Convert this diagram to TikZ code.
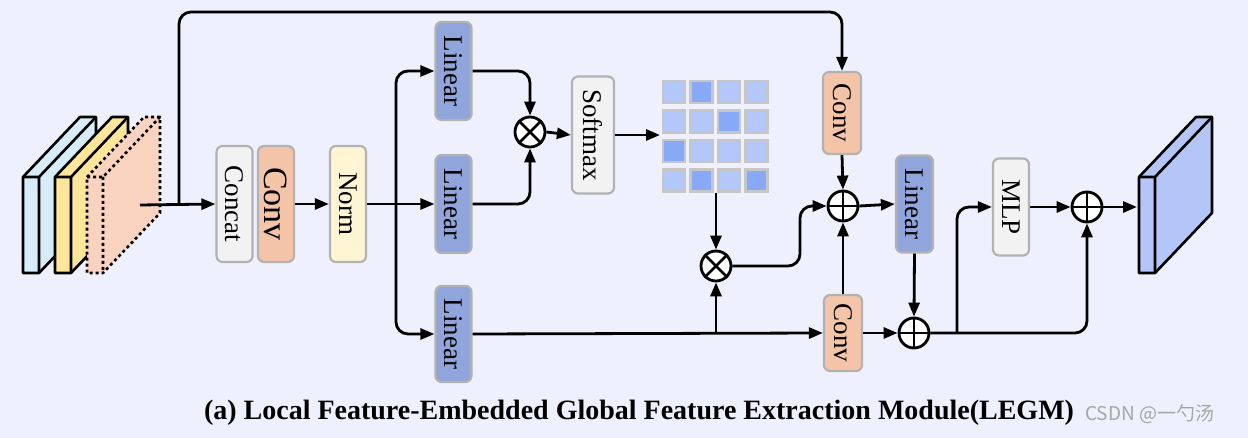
\documentclass[tikz,border=0pt]{standalone}
\usepackage{fontspec}
\setmainfont{Liberation Serif}
\newfontfamily\cjkf{Noto Sans CJK SC}
\usetikzlibrary{arrows.meta}
\definecolor{bg}{HTML}{EEF0FD}
\definecolor{linc}{HTML}{8FA5DC}
\definecolor{convc}{HTML}{F4C4A8}
\definecolor{grayc}{HTML}{F2F2F2}
\definecolor{normc}{HTML}{FFF5D4}
\definecolor{sblue}{HTML}{D6ECF8}
\definecolor{syel}{HTML}{FDE59A}
\definecolor{speach}{HTML}{F9D3BF}
\definecolor{outc}{HTML}{B3C6F7}
\definecolor{cl}{HTML}{B3C7FA}
\definecolor{cd}{HTML}{88A8F8}
\begin{document}
\begin{tikzpicture}[x=1pt,y=-1pt,
  blk/.style={draw=gray!60,line width=2.2pt,rounded corners=6pt,minimum width=36pt,inner sep=0pt,font=\fontsize{27}{27}\selectfont},
  arr/.style={-{Triangle[length=14pt,width=11pt]},line width=2.8pt,rounded corners=12pt},
  ln/.style={line width=2.8pt,rounded corners=12pt},
  op/.style={circle,draw,line width=2.8pt,fill=white,minimum size=30pt,inner sep=0pt},
  slab/.style={draw,line width=2.6pt,line join=round,dash pattern=on 9pt off 6pt}]
\fill[bg] (0,0) rectangle (1248,438);
\useasboundingbox (0,0) rectangle (1248,438);
% input slabs
\foreach \x/\c/\d in {23/sblue/solid,55/syel/solid,87/speach/dashed}{
  \draw[slab,fill=\c,\d] (\x,177)--(\x+57,117)--(\x+73,117)--(\x+73,213)--(\x+16,273)--(\x,273)--cycle;
  \draw[slab,\d] (\x,177)--(\x+16,177)--(\x+73,117) (\x+16,177)--(\x+16,273);
}
\coordinate (in) at (140,205);
\node[blk,fill=grayc,minimum height=116pt] (concat) at (234.5,204) {\rotatebox{-90}{Concat}};
\node[blk,fill=convc,minimum height=116pt,font=\fontsize{34}{34}\selectfont] (conv0) at (276,204) {\rotatebox{-90}{Conv}};
\node[blk,fill=normc,minimum height=116pt] (norm) at (348,204) {\rotatebox{-90}{Norm}};
\node[blk,fill=linc,minimum height=98pt] (lin1) at (453.5,71) {\rotatebox{-90}{Linear}};
\node[blk,fill=linc,minimum height=98pt] (lin2) at (453.5,204) {\rotatebox{-90}{Linear}};
\node[blk,fill=linc,minimum height=96pt] (lin3) at (453.5,334) {\rotatebox{-90}{Linear}};
\node[op] (m1) at (530,132) {};
\node[blk,fill=grayc,minimum height=117pt,minimum width=42pt] (soft) at (593,135) {\rotatebox{-90}{Softmax}};
\node[op] (m2) at (716,266) {};
\node[blk,fill=convc,minimum height=82pt,minimum width=38pt] (convt) at (842,113) {\rotatebox{-90}{Conv}};
\node[blk,fill=convc,minimum height=76pt,minimum width=38pt] (convb) at (843,333) {\rotatebox{-90}{Conv}};
\node[op] (p1) at (843,206) {};
\node[blk,fill=linc,minimum height=97pt,minimum width=37pt] (lin4) at (914.5,204) {\rotatebox{-90}{Linear}};
\node[op] (p2) at (914,333) {};
\node[blk,fill=grayc,minimum height=97pt] (mlp) at (1011,207) {\rotatebox{-90}{MLP}};
\node[op] (p3) at (1087,207) {};
\foreach \n in {m1,m2}{\draw[line width=2.6pt] (\n.north west)--(\n.south east) (\n.north east)--(\n.south west);}
\foreach \n in {p1,p2,p3}{\draw[line width=2.6pt] (\n.north)--(\n.south) (\n.east)--(\n.west);}
% matrix
\foreach \r/\row in {0/{0,1,0,0},1/{0,0,1,0},2/{1,0,0,0},3/{0,1,0,1}}{
  \foreach \v [count=\cc from 0] in \row{
    \ifnum\v=1 \def\fc{cd}\else\def\fc{cl}\fi
    \draw[draw=gray!45,line width=2.2pt,fill=\fc] (663+\cc*27.5,81+\r*29.5) rectangle ++(22,22);
  }}
\coordinate (mat) at (660,135);
\coordinate (matb) at (716,193);
% output
\draw[slab,solid,fill=outc] (1139,177)--(1196,117)--(1212,117)--(1212,213)--(1155,273)--(1139,273)--cycle;
\draw[slab,solid] (1139,177)--(1155,177)--(1212,117) (1155,177)--(1155,273);
\coordinate (out) at (1137,207);
% connectors
\draw[arr] (in) -- (concat.west);
\draw[arr] (179,205) -- (179,12) -- (842,12) -- (convt.north);
\draw[arr] (conv0.east) -- (norm.west);
\draw[ln] (norm.east) -- (396,204);
\draw[arr] (396,204) -- (396,71) -- (lin1.west);
\draw[arr] (396,204) -- (lin2.west);
\draw[arr] (396,204) -- (396,334) -- (lin3.west);
\draw[arr] (lin1.east) -- (530,71) -- (m1.north);
\draw[arr] (lin2.east) -- (530,204) -- (m1.south);
\draw[arr] (m1.east) -- (soft.west);
\draw[arr] (soft.east) -- (mat);
\draw[arr] (matb) -- (m2.north);
\draw[arr] (lin3.east) -- (convb.west);
\draw[arr] (716,334) -- (m2.south);
\draw[arr] (m2.east) -- (800,266) -- (800,206) -- (p1.west);
\draw[arr] (convt.south) -- (p1.north);
\draw[arr] (convb.north) -- (p1.south);
\draw[arr] (p1.east) -- (lin4.west);
\draw[arr] (lin4.south) -- (p2.north);
\draw[arr] (convb.east) -- (p2.west);
\draw[arr] (957,333) -- (957,207) -- (mlp.west);
\draw[arr] (p2.east) -- (1087,333) -- (p3.south);
\draw[arr] (mlp.east) -- (p3.west);
\draw[arr] (p3.east) -- (out);
\node[font=\fontsize{28}{28}\selectfont\bfseries,anchor=center] (cap) at (639,413) {(a) Local Feature-Embedded Global Feature Extraction Module(LEGM)};
\node[font=\cjkf\fontsize{19}{19}\selectfont,text=gray!70,anchor=west,inner sep=0pt] (wm) at (1085,414) {CSDN @一勺汤};
\end{tikzpicture}
\end{document}
